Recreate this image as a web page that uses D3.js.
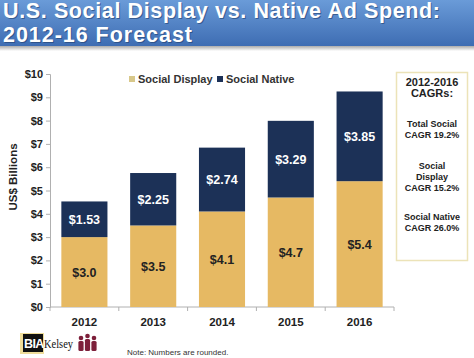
<!DOCTYPE html>
<html><head><meta charset="utf-8">
<script src="https://cdn.jsdelivr.net/npm/d3@7/dist/d3.min.js"></script>
<style>
html,body{margin:0;padding:0;background:#fff;}
svg{display:block;font-family:Arial,"Liberation Sans",sans-serif;}
</style></head>
<body>
<svg id="chart" width="474" height="358"></svg>
<script>
const years = ["2012","2013","2014","2015","2016"];
const socialDisplay = [3.0, 3.5, 4.1, 4.7, 5.4];
const socialNative = [1.53, 2.25, 2.74, 3.29, 3.85];
const displayLabels = ["$3.0","$3.5","$4.1","$4.7","$5.4"];
const nativeLabels = ["$1.53","$2.25","$2.74","$3.29","$3.85"];
const yTicks = [0,1,2,3,4,5,6,7,8,9,10];
const seriesNames = ["Social Display","Social Native"];
const cagrLines = [
  {t:"2012-2016", big:true}, {t:"CAGRs:", big:true},
  {t:"Total Social"}, {t:"CAGR 19.2%"},
  {t:"Social"}, {t:"Display"}, {t:"CAGR 15.2%"},
  {t:"Social Native"}, {t:"CAGR 26.0%"}
];
const cagrY = [82,93,124,135,166,177,188,217,228];

const colors = {display:"#E6B963", native:"#1C3157"};
const svg = d3.select("#chart");
const defs = svg.append("defs");
const g1 = defs.append("linearGradient").attr("id","tg").attr("x1",0).attr("y1",0).attr("x2",0).attr("y2",1);
g1.append("stop").attr("offset","0%").attr("stop-color","#6a9bd8");
g1.append("stop").attr("offset","100%").attr("stop-color","#3e6db3");
const g2 = defs.append("linearGradient").attr("id","sh").attr("x1",0).attr("y1",0).attr("x2",0).attr("y2",1);
g2.append("stop").attr("offset","0%").attr("stop-color","#9a9a9a");
g2.append("stop").attr("offset","100%").attr("stop-color","#ffffff");

// title band
svg.append("rect").attr("x",0).attr("y",45).attr("width",474).attr("height",6).attr("fill","url(#sh)");
svg.append("rect").attr("x",0).attr("y",0).attr("width",474).attr("height",46).attr("fill","url(#tg)");
const title = svg.append("g").attr("font-weight","bold").attr("font-size",21.5);
[["U.S. Social Display vs. Native Ad Spend:",18,437],["2012-16 Forecast",42,189]].forEach(([t,y,w])=>{
  title.append("text").attr("x",4).attr("y",y+1).attr("fill","#23406e").attr("opacity",0.6)
    .attr("textLength",w).attr("lengthAdjust","spacing").text(t);
  title.append("text").attr("x",3).attr("y",y).attr("fill","#fff")
    .attr("textLength",w).attr("lengthAdjust","spacing").text(t);
});

// scales
const x = d3.scaleBand().domain(years).range([50,394]).paddingInner(0.33).paddingOuter(0.165);
const y = d3.scaleLinear().domain([0,10]).range([307,74]);

// axes
const yAxis = svg.append("g").attr("transform","translate(50,0)")
  .call(d3.axisLeft(y).tickValues(yTicks).tickFormat(d=>"$"+d).tickSize(4).tickPadding(3));
yAxis.selectAll("text").attr("font-size",11).attr("font-weight","bold").attr("fill","#222").attr("font-family","Arial,'Liberation Sans',sans-serif");
yAxis.selectAll("line,path").attr("stroke","#b0b0b0");

const xAxis = svg.append("g").attr("transform","translate(0,307)")
  .call(d3.axisBottom(x).tickSize(0).tickPadding(11));
xAxis.select("path").attr("stroke","#b0b0b0").attr("d","M50,0H394");
xAxis.selectAll("text").attr("font-size",11.5).attr("font-weight","bold").attr("fill","#222").attr("font-family","Arial,'Liberation Sans',sans-serif");
// category boundary ticks
const step = x.step();
xAxis.selectAll(".bt").data(d3.range(years.length+1)).enter().append("line")
  .attr("x1",i=>50+i*step).attr("x2",i=>50+i*step).attr("y1",0).attr("y2",4).attr("stroke","#b0b0b0");

// bars
const bars = svg.append("g");
years.forEach((yr,i)=>{
  const d = socialDisplay[i], n = socialNative[i];
  bars.append("rect").attr("x",x(yr)).attr("width",x.bandwidth()).attr("y",y(d)).attr("height",y(0)-y(d)).attr("fill",colors.display);
  bars.append("rect").attr("x",x(yr)).attr("width",x.bandwidth()).attr("y",y(d+n)).attr("height",y(d)-y(d+n)).attr("fill",colors.native);
  bars.append("text").attr("x",x(yr)+x.bandwidth()/2).attr("y",(y(0)+y(d))/2).attr("dy","0.36em")
    .attr("text-anchor","middle").attr("font-size",12.5).attr("font-weight","bold").attr("fill","#222").text(displayLabels[i]);
  bars.append("text").attr("x",x(yr)+x.bandwidth()/2).attr("y",(y(d)+y(d+n))/2).attr("dy","0.36em")
    .attr("text-anchor","middle").attr("font-size",12.5).attr("font-weight","bold").attr("fill","#fff").text(nativeLabels[i]);
});

// y label
svg.append("text").attr("transform","translate(17,177) rotate(-90)").attr("text-anchor","middle")
  .attr("font-size",11.5).attr("font-weight","bold").attr("fill","#222").text("US$ Billions");

// legend
const legX = [129,217];
seriesNames.forEach((s,i)=>{
  svg.append("rect").attr("x",legX[i]).attr("y",76).attr("width",6).attr("height",6).attr("fill",i?colors.native:"#d8c88a");
  svg.append("text").attr("x",legX[i]+9).attr("y",83).attr("font-size",11).attr("font-weight","bold").attr("fill","#333").text(s);
});

// CAGR box
svg.append("rect").attr("x",396.5).attr("y",72.5).attr("width",71).attr("height",188).attr("fill","#fff").attr("stroke","#ece3b8").attr("stroke-width",1.5);
cagrLines.forEach((c,i)=>{
  svg.append("text").attr("x",432).attr("y",cagrY[i]).attr("dy","0.35em").attr("text-anchor","middle")
    .attr("font-size",c.big?11:9).attr("font-weight","bold").attr("fill","#222").text(c.t);
});

// footer
svg.append("text").attr("x",127).attr("y",355).attr("font-size",8).attr("fill","#333").text("Note: Numbers are rounded.");
// logo
const logo = svg.append("g");
logo.append("rect").attr("x",20).attr("y",333).attr("width",24).attr("height",21).attr("fill","#eedc9a");
logo.append("rect").attr("x",23).attr("y",334).attr("width",20).attr("height",18).attr("fill","#111");
logo.append("text").attr("x",24).attr("y",348).attr("font-size",12.5).attr("font-weight","bold").attr("fill","#fff").attr("letter-spacing",-0.6).text("BIA");
logo.append("text").attr("x",44).attr("y",348).attr("font-size",12).attr("font-family","'Liberation Serif','DejaVu Serif',serif").attr("fill","#111")
  .attr("textLength",29).attr("lengthAdjust","spacingAndGlyphs").text("Kelsey");
const ic = logo.append("g").attr("fill","#7d1f3a");
[[81,338],[87.5,336],[94,338]].forEach(([cx,cy])=>{
  ic.append("circle").attr("cx",cx).attr("cy",cy).attr("r",2.3);
  ic.append("rect").attr("x",cx-2.6).attr("y",cy+3).attr("width",5.2).attr("height",12-(cy-336)).attr("rx",1.5);
});
</script>
</body></html>
